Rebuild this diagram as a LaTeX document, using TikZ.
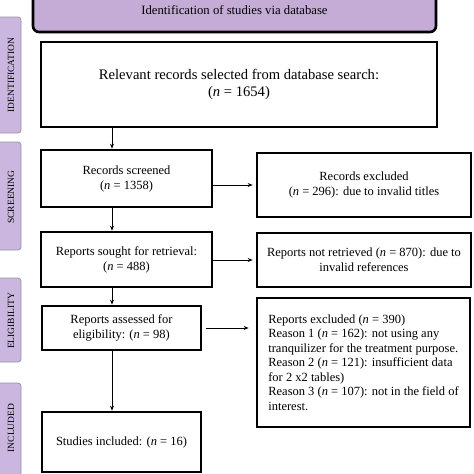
\documentclass[tikz,border=0pt]{standalone}
\usepackage{fontspec}
\setmainfont{Liberation Serif}
\usetikzlibrary{arrows.meta,calc}
\definecolor{purp}{RGB}{196,172,214}
\definecolor{tabpurp}{RGB}{202,182,222}
\definecolor{tabedge}{RGB}{150,150,160}
\tikzset{
  box/.style={draw=black,line width=2.6pt,fill=white,align=center,inner sep=2pt,
    font=\fontsize{12.5}{15}\selectfont},
  tab/.style={draw=tabedge,line width=0.8pt,fill=tabpurp,
    rounded corners=3pt},
  tabtext/.style={rotate=90,font=\fontsize{9.5}{11}\selectfont},
  arr/.style={-{Stealth[length=5pt,width=4pt]},line width=0.8pt}
}
\newcommand{\nn}{\textit{n}}
\begin{document}
\begin{tikzpicture}[x=1pt,y=-1pt]
\useasboundingbox (0,0) rectangle (474,474);
% title bar
\node[box,fill=purp,rounded corners=6pt,minimum width=403pt,minimum height=44pt,
  font=\fontsize{12.7}{15}\selectfont,anchor=center] (title) at (234.5,10)
  {\raisebox{-10pt}{Identification of studies via database}};
% side tabs
\draw[tab] (-5,17) rectangle (21,133);
\node[tabtext] (t1) at (11,75) {IDENTIFICATION};
\draw[tab] (-5,142) rectangle (21,250);
\node[tabtext] (t2) at (11,197) {SCREENING};
\draw[tab] (-5,278) rectangle (21,362);
\node[tabtext] (t3) at (11,321) {ELIGIBILITY};
\draw[tab] (-5,383) rectangle (21,480);
\node[tabtext] (t4) at (11,428) {INCLUDED};
% main boxes
\node[box,minimum width=396pt,minimum height=85pt,font=\fontsize{14.6}{17.5}\selectfont]
  (b1) at (239,84.5) {Relevant records selected from database search:\\(\nn{} = 1654)};
\node[box,minimum width=171pt,minimum height=57pt] (scr) at (126.5,178.5)
  {Records screened\\(\nn{} = 1358)};
\node[box,minimum width=214pt,minimum height=64pt] (ex1) at (364,185)
  {Records excluded\\(\nn{} = 296): due to invalid titles};
\node[box,minimum width=171pt,minimum height=55pt] (sou) at (126.5,259.5)
  {Reports sought for retrieval:\\(\nn{} = 488)};
\node[box,minimum width=214pt,minimum height=54pt] (ex2) at (364,260)
  {Reports not retrieved (\nn{} = 870): due to\\invalid references};
\node[box,minimum width=159pt,minimum height=44pt] (ass) at (121.5,328)
  {Reports assessed for\\eligibility: (\nn{} = 98)};
\node[box,minimum width=213pt,minimum height=129pt,align=left,
  font=\fontsize{12.5}{14.5}\selectfont] (ex3) at (363.5,362.5)
  {Reports excluded (\nn{} = 390)\\Reason 1 (\nn{} = 162): not using any\\tranquilizer for the treatment purpose.\\Reason 2 (\nn{} = 121): insufficient data\\for 2 x2 tables)\\Reason 3 (\nn{} = 107): not in the field of\\interest.};
\node[box,minimum width=159pt,minimum height=60pt] (inc) at (121.5,442)
  {Studies included: (\nn{} = 16)};
% connectors
\coordinate (vx) at (112,0);
\draw[arr] (b1.south -| vx) -- (scr.north -| vx);
\draw[arr] (scr.south -| vx) -- (sou.north -| vx);
\draw[arr] (sou.south -| vx) -- (ass.north -| vx);
\draw[arr] (ass.south -| vx) -- (inc.north -| vx);
\draw[arr] (scr.east |- ex1.west) -- ([xshift=-3pt]ex1.west);
\draw[arr] (sou.east |- ex2.west) -- ([xshift=-3pt]ex2.west);
\draw[arr] ([xshift=4pt]ass.east) -- ([xshift=-7pt]ex3.west |- ass.east);
\end{tikzpicture}
\end{document}
